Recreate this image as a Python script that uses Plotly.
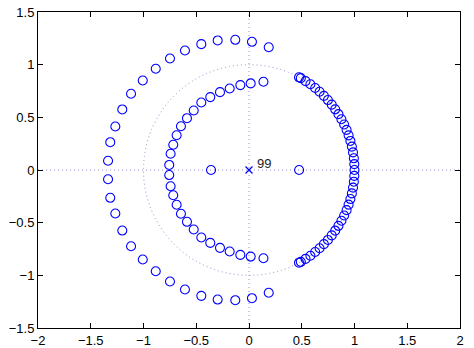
import plotly.graph_objects as go

# Zeros (upper half; lower half are conjugates)
outer_re = [0.187, 0.028, -0.130, -0.297, -0.452, -0.607, -0.749, -0.884, -1.007, -1.118, -1.201, -1.267, -1.315, -1.336]
outer_im = [1.165, 1.217, 1.236, 1.230, 1.195, 1.135, 1.059, 0.961, 0.850, 0.724, 0.575, 0.413, 0.264, 0.088]
inner_re = [0.137, 0.016, -0.082, -0.183, -0.275, -0.367, -0.452, -0.524, -0.588, -0.645, -0.686, -0.718, -0.743, -0.756]
inner_im = [0.838, 0.822, 0.806, 0.774, 0.739, 0.692, 0.641, 0.565, 0.492, 0.415, 0.330, 0.240, 0.154, 0.048]
unit_re = [0.998, 0.994, 0.986, 0.975, 0.961, 0.944, 0.925, 0.902, 0.876, 0.848, 0.817, 0.784, 0.748, 0.710, 0.669, 0.627, 0.582, 0.536, 0.491, 0.474]
unit_im = [0.056, 0.111, 0.167, 0.222, 0.276, 0.329, 0.381, 0.432, 0.482, 0.530, 0.576, 0.621, 0.664, 0.704, 0.743, 0.779, 0.814, 0.844, 0.872, 0.880]
real_zeros = [-0.36, 0.475, 1.0]
pole_re = [0.0]
pole_im = [0.0]
pole_label = "99"

x_ticks = [-2, -1.5, -1, -0.5, 0, 0.5, 1, 1.5, 2]
y_ticks = [-1.5, -1, -0.5, 0, 0.5, 1, 1.5]

up_re = outer_re + inner_re + unit_re
up_im = outer_im + inner_im + unit_im
z_re = up_re + up_re + real_zeros
z_im = up_im + [-v for v in up_im] + [0.0] * len(real_zeros)

blue = "#0000ff"
dotc = "#8f8fd0"
dotdash = "1px,3px"

fig = go.Figure()
fig.add_trace(go.Scatter(x=z_re, y=z_im, mode="markers",
                         marker=dict(symbol="circle-open", size=9, color=blue,
                                     line=dict(width=1.1, color=blue)),
                         hoverinfo="skip", showlegend=False))
fig.add_trace(go.Scatter(x=pole_re, y=pole_im, mode="markers",
                         marker=dict(symbol="x-thin-open", size=7, color=blue,
                                     line=dict(width=1.2, color=blue)),
                         showlegend=False))

fig.add_shape(type="circle", x0=-1, y0=-1, x1=1, y1=1, xref="x", yref="y",
              line=dict(color=dotc, width=1, dash=dotdash), layer="below")
fig.add_shape(type="line", x0=-2, x1=2, y0=0, y1=0, xref="x", yref="y",
              line=dict(color=dotc, width=1, dash=dotdash), layer="below")
fig.add_shape(type="line", x0=0, x1=0, y0=-1.5, y1=1.5, xref="x", yref="y",
              line=dict(color=dotc, width=1, dash=dotdash), layer="below")

fig.add_annotation(x=pole_re[0] + 0.06, y=pole_im[0] + 0.06, text=pole_label,
                   showarrow=False, xanchor="left", yanchor="middle",
                   font=dict(family="Liberation Sans, Arial", size=13, color="#222"))

axis_common = dict(showgrid=False, zeroline=False, showline=True, linecolor="black",
                   linewidth=1, mirror="ticks", ticks="inside", ticklen=5,
                   tickcolor="black", automargin=False,
                   tickfont=dict(family="Liberation Sans, Arial", size=13, color="black"))

fig.update_layout(
    width=474, height=348,
    margin=dict(l=38, r=14, t=12, b=20),
    paper_bgcolor="white", plot_bgcolor="white",
    xaxis=dict(range=[-2, 2], tickvals=x_ticks, ticktext=[f"{v:g}".replace("-", "\u2212") for v in x_ticks], **axis_common),
    yaxis=dict(range=[-1.5, 1.5], tickvals=y_ticks, ticktext=[f"{v:g}".replace("-", "\u2212") for v in y_ticks], **axis_common),
)

fig.write_html("out.html")
